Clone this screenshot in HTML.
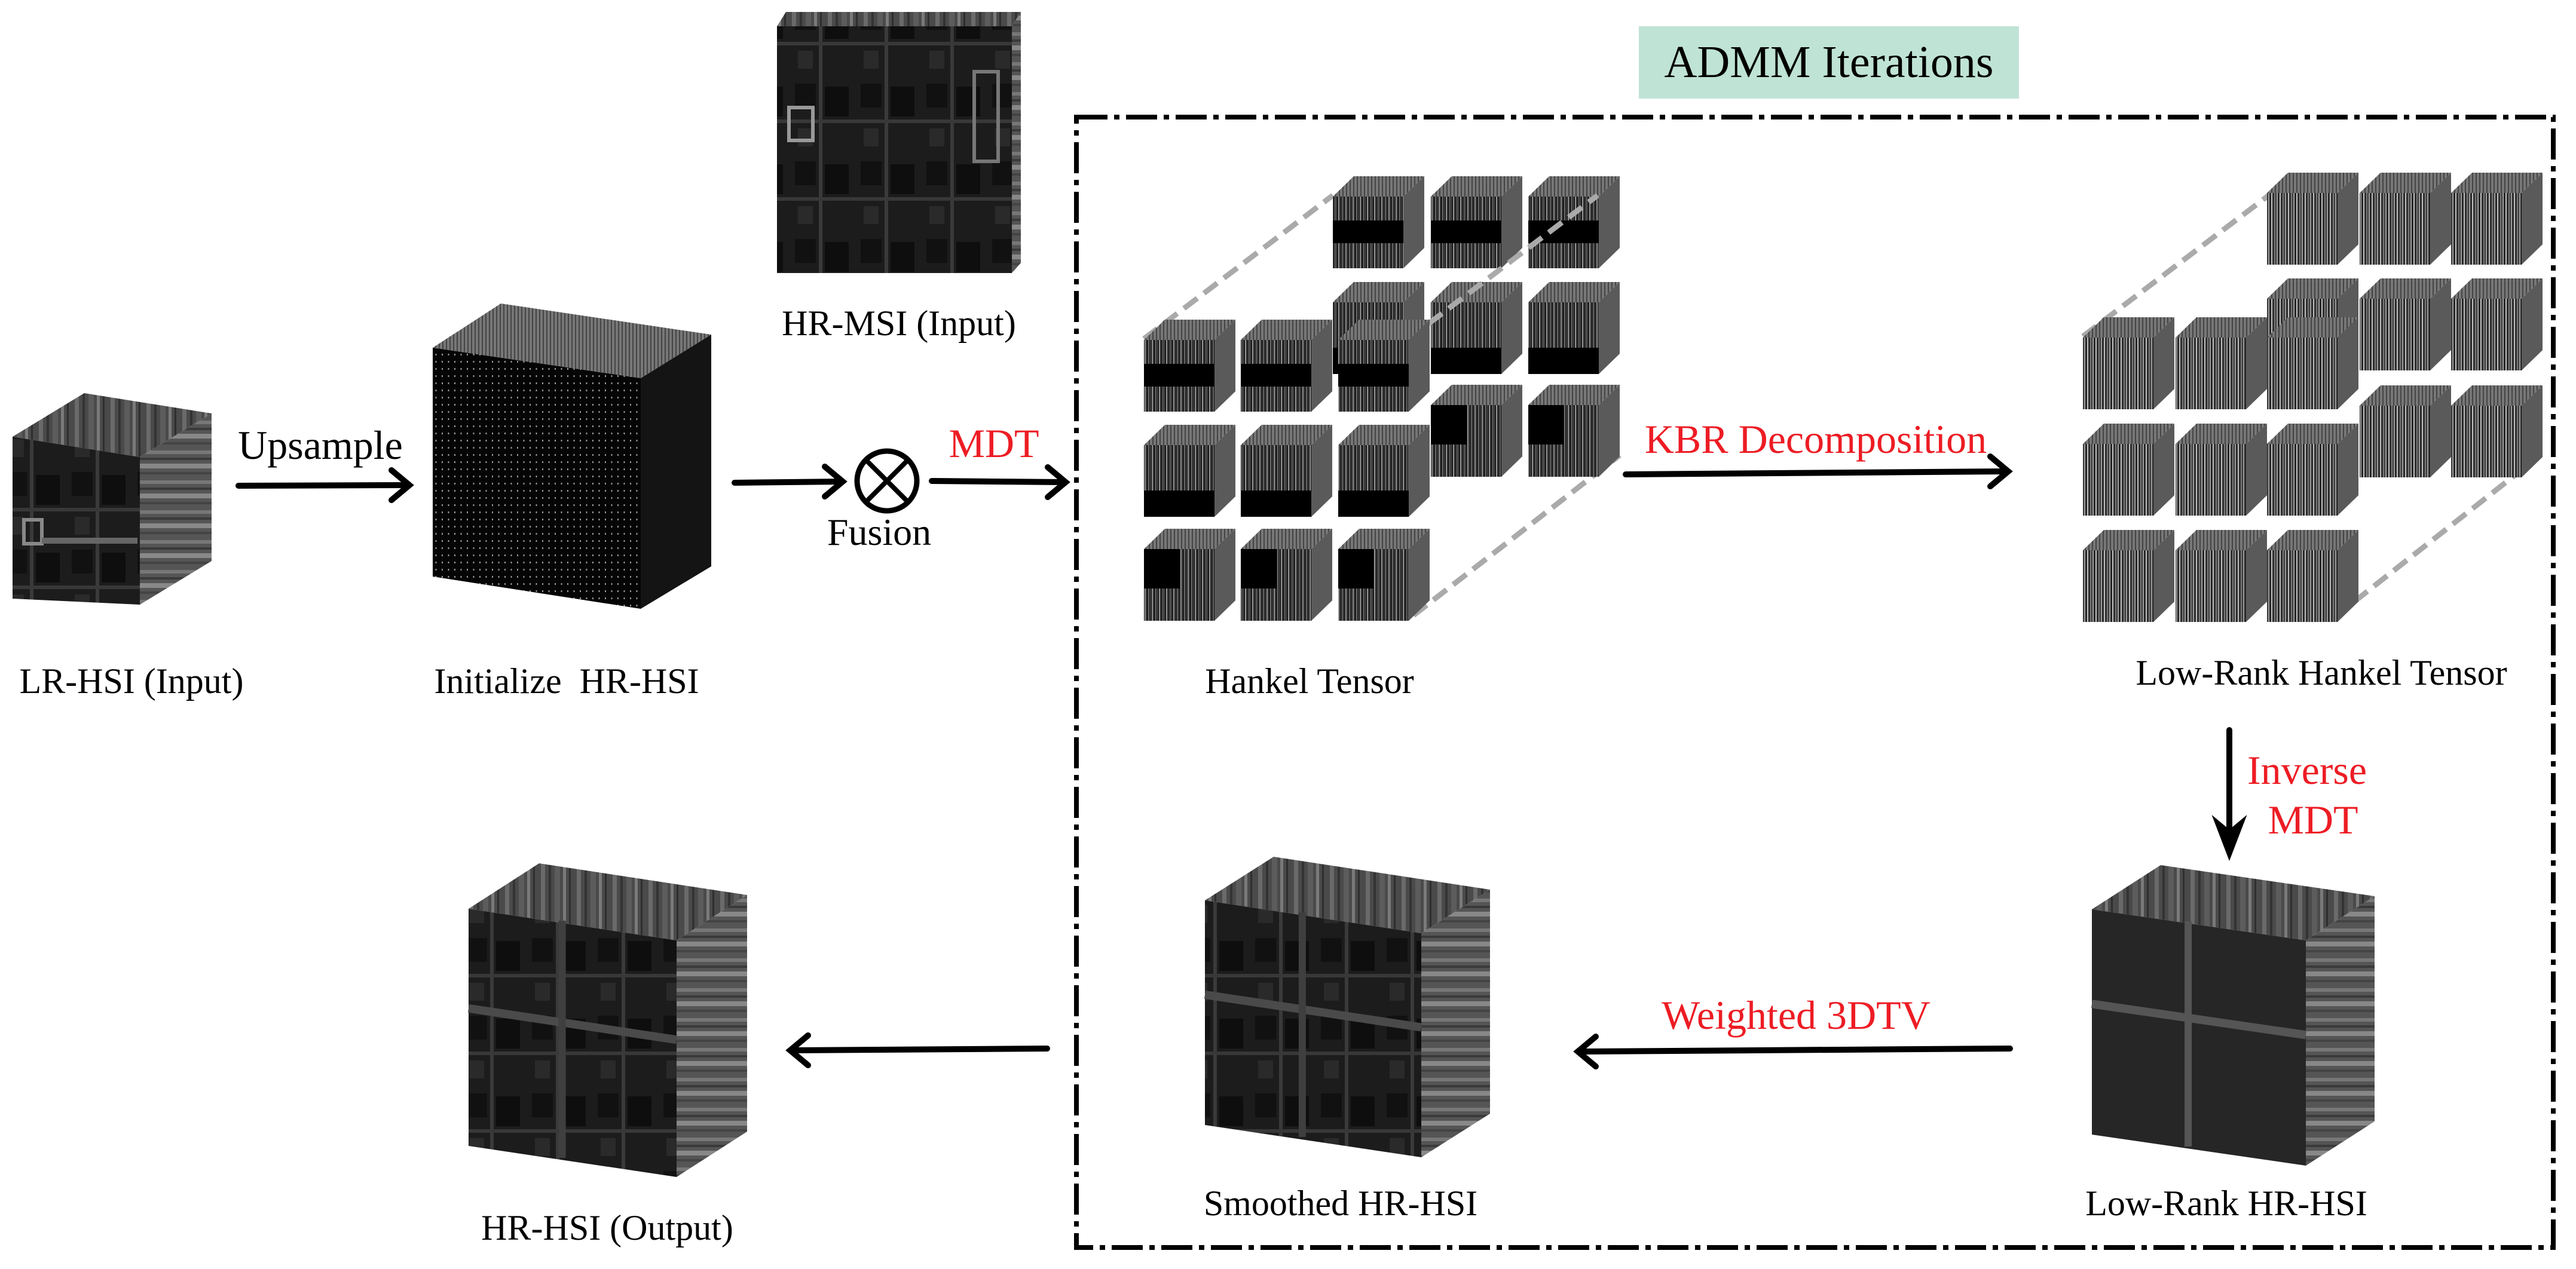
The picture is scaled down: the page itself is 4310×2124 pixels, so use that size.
<!DOCTYPE html>
<html><head><meta charset="utf-8"><style>
html,body{margin:0;padding:0;background:#fff}
svg{display:block}
svg text{font-family:"Liberation Serif","DejaVu Serif",serif !important}
.lb{font-size:60px;fill:#000}
.rd{font-size:68px;fill:#ed1c24}
</style></head><body>
<svg id="s" width="4310" height="2124" viewBox="0 0 4310 2124" xmlns="http://www.w3.org/2000/svg" font-family="Liberation Serif, serif">
<defs>
<pattern id="vst" width="60" height="60" patternUnits="userSpaceOnUse">
<rect width="60" height="60" fill="#4a4a4a"/><rect x="5" width="7" height="60" fill="#6a6a6a"/><rect x="18" width="4" height="60" fill="#333"/><rect x="28" width="9" height="60" fill="#5c5c5c"/><rect x="42" width="5" height="60" fill="#7a7a7a"/><rect x="52" width="3" height="60" fill="#2e2e2e"/>
</pattern>
<pattern id="hst" width="60" height="50" patternUnits="userSpaceOnUse">
<rect width="60" height="50" fill="#555"/><rect y="4" width="60" height="6" fill="#777"/><rect y="16" width="60" height="4" fill="#3a3a3a"/><rect y="26" width="60" height="8" fill="#888"/><rect y="40" width="60" height="4" fill="#444"/>
</pattern>
<pattern id="aer" width="110" height="130" patternUnits="userSpaceOnUse">
<rect width="110" height="130" fill="#1c1c1c"/><rect x="10" y="10" width="35" height="40" fill="#111"/><rect x="60" y="15" width="40" height="50" fill="#0e0e0e"/><rect x="50" width="6" height="130" fill="#3a3a3a"/><rect y="70" width="110" height="6" fill="#383838"/><rect x="15" y="85" width="25" height="30" fill="#2a2a2a"/>
</pattern>
<pattern id="dots" width="10.5" height="12" patternUnits="userSpaceOnUse">
<rect width="10.5" height="12" fill="#050505"/><rect x="4" y="4" width="2" height="3" fill="#9a9a9a"/>
</pattern>
<pattern id="fs" width="12" height="20" patternUnits="userSpaceOnUse">
<rect width="12" height="20" fill="#111"/><rect x="1" width="1.5" height="20" fill="#888"/><rect x="4" width="1" height="20" fill="#666"/><rect x="7" width="2" height="20" fill="#999"/><rect x="10" width="1" height="20" fill="#555"/>
</pattern>
<pattern id="fs2" width="14" height="20" patternUnits="userSpaceOnUse">
<rect width="14" height="20" fill="#3a3a3a"/><rect x="1" width="2" height="20" fill="#999"/><rect x="4" width="1" height="20" fill="#111"/><rect x="6" width="2" height="20" fill="#bbb"/><rect x="9" width="1" height="20" fill="#222"/><rect x="11" width="2" height="20" fill="#777"/>
</pattern>
<pattern id="ts" width="6" height="20" patternUnits="userSpaceOnUse">
<rect width="6" height="20" fill="#777"/><rect x="2" width="2" height="20" fill="#444"/>
</pattern>
</defs>

<rect x="2742" y="44" width="636" height="121" fill="#bfe3d4"/>
<text x="3060" y="129" text-anchor="middle" font-family="Liberation Serif, serif" style="font-size:76px">ADMM Iterations</text>
<rect x="1801" y="196" width="2471" height="1892" fill="none" stroke="#000" stroke-width="8" stroke-dasharray="52 11 9 11"/>

<polygon points="21,731 141,658 354,692 234,765" fill="url(#vst)"/>
<polygon points="234,765 354,692 354,939 234,1012" fill="url(#hst)"/>
<polygon points="21,731 234,765 234,1012 21,1002" fill="url(#aer)"/>
<rect x="40" y="870" width="30" height="40" fill="none" stroke="#888" stroke-width="6"/>
<rect x="70" y="900" width="160" height="10" fill="#666"/>
<text class="lb" x="220" y="1160" text-anchor="middle" font-family="Liberation Serif, serif">LR-HSI (Input)</text>

<text x="536" y="768" text-anchor="middle" font-family="Liberation Serif, serif" style="font-size:68px">Upsample</text>

<polygon points="724,582 838,508 1190,560 1072,633" fill="url(#ts)"/>
<polygon points="1072,633 1190,560 1190,948 1072,1019" fill="#141414"/>
<polygon points="724,582 1072,633 1072,1019 724,965" fill="url(#dots)"/>
<text class="lb" x="948" y="1160" text-anchor="middle" font-family="Liberation Serif, serif" xml:space="preserve">Initialize  HR-HSI</text>

<polygon points="1300,44 1315,20 1708,20 1693,44" fill="url(#vst)"/>
<polygon points="1693,44 1708,20 1708,440 1693,457" fill="url(#hst)"/>
<rect x="1300" y="44" width="393" height="413" fill="url(#aer)"/>
<rect x="1320" y="180" width="40" height="55" fill="none" stroke="#999" stroke-width="6"/>
<rect x="1630" y="120" width="40" height="150" fill="none" stroke="#777" stroke-width="6"/>
<text class="lb" x="1504" y="561" text-anchor="middle" font-family="Liberation Serif, serif">HR-MSI (Input)</text>

<circle cx="1484" cy="805" r="50" fill="none" stroke="#000" stroke-width="9"/>
<line x1="1449" y1="770" x2="1519" y2="840" stroke="#000" stroke-width="8"/>
<line x1="1519" y1="770" x2="1449" y2="840" stroke="#000" stroke-width="8"/>
<text class="lb" x="1471" y="912" text-anchor="middle" font-family="Liberation Serif, serif" style="font-size:64px">Fusion</text>
<text class="rd" x="1663" y="765" text-anchor="middle" font-family="Liberation Serif, serif">MDT</text>
<text class="rd" x="3038" y="758" text-anchor="middle" font-family="Liberation Serif, serif">KBR Decomposition</text>
<text class="rd" x="3860" y="1312" text-anchor="middle" font-family="Liberation Serif, serif">Inverse</text>
<text class="rd" x="3870" y="1395" text-anchor="middle" font-family="Liberation Serif, serif">MDT</text>
<text class="rd" x="3005" y="1722" text-anchor="middle" font-family="Liberation Serif, serif">Weighted 3DTV</text>

<g id="arrows" stroke="#000" stroke-width="10" fill="none" stroke-linecap="round">
<line x1="399" y1="813" x2="680" y2="812"/><polyline points="655,787 685,812 655,837"/>
<line x1="1229" y1="808" x2="1405" y2="806"/><polyline points="1380,781 1410,806 1380,831"/>
<line x1="1559" y1="805" x2="1778" y2="807"/><polyline points="1753,782 1783,807 1753,832"/>
<line x1="2720" y1="794" x2="3355" y2="789"/><polyline points="3330,764 3360,789 3330,814"/>
<line x1="3730" y1="1222" x2="3730" y2="1400"/><polygon points="3712,1380 3730,1427 3748,1380 3730,1395" fill="#000"/>
<line x1="3363" y1="1755" x2="2645" y2="1760"/><polyline points="2670,1735 2640,1760 2670,1785"/>
<line x1="1752" y1="1755" x2="1327" y2="1758"/><polyline points="1352,1733 1322,1758 1352,1783"/>
</g>

<g id="hank"></g>
<text class="lb" x="2191" y="1160" text-anchor="middle" font-family="Liberation Serif, serif">Hankel Tensor</text>
<text class="lb" x="3884" y="1146" text-anchor="middle" font-family="Liberation Serif, serif">Low-Rank Hankel Tensor</text>

<g id="big"></g>
<text class="lb" x="1016" y="2075" text-anchor="middle" font-family="Liberation Serif, serif">HR-HSI (Output)</text>
<text class="lb" x="2243" y="2034" text-anchor="middle" font-family="Liberation Serif, serif">Smoothed HR-HSI</text>
<text class="lb" x="3725" y="2034" text-anchor="middle" font-family="Liberation Serif, serif">Low-Rank HR-HSI</text>
</svg>
<script>
(function(){
var NS="http://www.w3.org/2000/svg";
function el(p,t,a){var e=document.createElementNS(NS,t);for(var k in a)e.setAttribute(k,a[k]);p.appendChild(e);return e;}
var h=document.getElementById('hank');
var W=118,H=120,DX=35,DY=-34;
function cube(x,y,fill,band){
 var fy=y-DY;
 el(h,'polygon',{points:[x,fy,x+DX,y,x+DX+W,y,x+W,fy].join(' '),fill:'url(#ts)'});
 el(h,'polygon',{points:[x+W,fy,x+W+DX,y,x+W+DX,y+H,x+W,fy+H].join(' '),fill:'#5a5a5a'});
 el(h,'rect',{x:x,y:fy,width:W,height:H,fill:fill});
 if(band==1)el(h,'rect',{x:x,y:fy+40,width:W,height:38,fill:'#000'});
 if(band==2)el(h,'rect',{x:x,y:fy+76,width:W,height:44,fill:'#000'});
 if(band==3)el(h,'rect',{x:x,y:fy,width:W*0.5,height:H*0.55,fill:'#000'});
}
function dash(x1,y1,x2,y2){el(h,'line',{x1:x1,y1:y1,x2:x2,y2:y2,stroke:'#aaa','stroke-width':9,'stroke-dasharray':'28 14'});}
var bc=[2230,2394,2557],br=[295,472,644],fc=[1914,2076,2239],fr=[535,711,885];
dash(1914,567,2230,327);dash(2365,1030,2710,762);
for(var r=0;r<3;r++)for(var c=0;c<3;c++){if(r==2&&c==0)continue;cube(bc[c],br[r],'url(#fs)',r==0?1:(r==1?2:3));}
dash(2357,567,2673,327);
for(var r=0;r<3;r++)for(var c=0;c<3;c++)cube(fc[c],fr[r],'url(#fs)',r==0?1:(r==1?2:3));
var bc2=[3793,3948,4101],br2=[289,466,645],fc2=[3485,3640,3793],fr2=[531,709,887];
dash(3485,563,3805,320);dash(3906,1033,4226,781);
for(var r=0;r<3;r++)for(var c=0;c<3;c++){if(r==2&&c==0)continue;cube(bc2[c],br2[r],'url(#fs2)',0);}
for(var r=0;r<3;r++)for(var c=0;c<3;c++)cube(fc2[c],fr2[r],'url(#fs2)',0);
var b=document.getElementById('big');
function big(TL,TR,BR,BL,d,lr){
 var P=function(p){return p[0]+','+p[1];};
 var a=function(p){return [p[0]+d[0],p[1]+d[1]];};
 el(b,'polygon',{points:[P(TL),P(a(TL)),P(a(TR)),P(TR)].join(' '),fill:'url(#vst)'});
 el(b,'polygon',{points:[P(TR),P(a(TR)),P(a(BR)),P(BR)].join(' '),fill:'url(#hst)'});
 el(b,'polygon',{points:[P(TL),P(TR),P(BR),P(BL)].join(' '),fill:lr?'#262626':'url(#aer)'});
 var w=TR[0]-TL[0];
 el(b,'line',{x1:TL[0],y1:TL[1]+(BL[1]-TL[1])*0.42,x2:TR[0],y2:TR[1]+(BR[1]-TR[1])*0.42,stroke:lr?'#555':'#4a4a4a','stroke-width':14});
 el(b,'line',{x1:TL[0]+w*0.45,y1:TL[1]+20,x2:TL[0]+w*0.45,y2:BL[1]+20,stroke:lr?'#555':'#3f3f3f','stroke-width':12});
}
big([784,1521],[1132,1574],[1132,1970],[784,1918],[118,-76],0);
big([2016,1507],[2378,1562],[2378,1937],[2016,1883],[115,-73],0);
big([3500,1522],[3858,1574],[3858,1951],[3500,1899],[115,-74],1);
})();
</script>
</body></html>
